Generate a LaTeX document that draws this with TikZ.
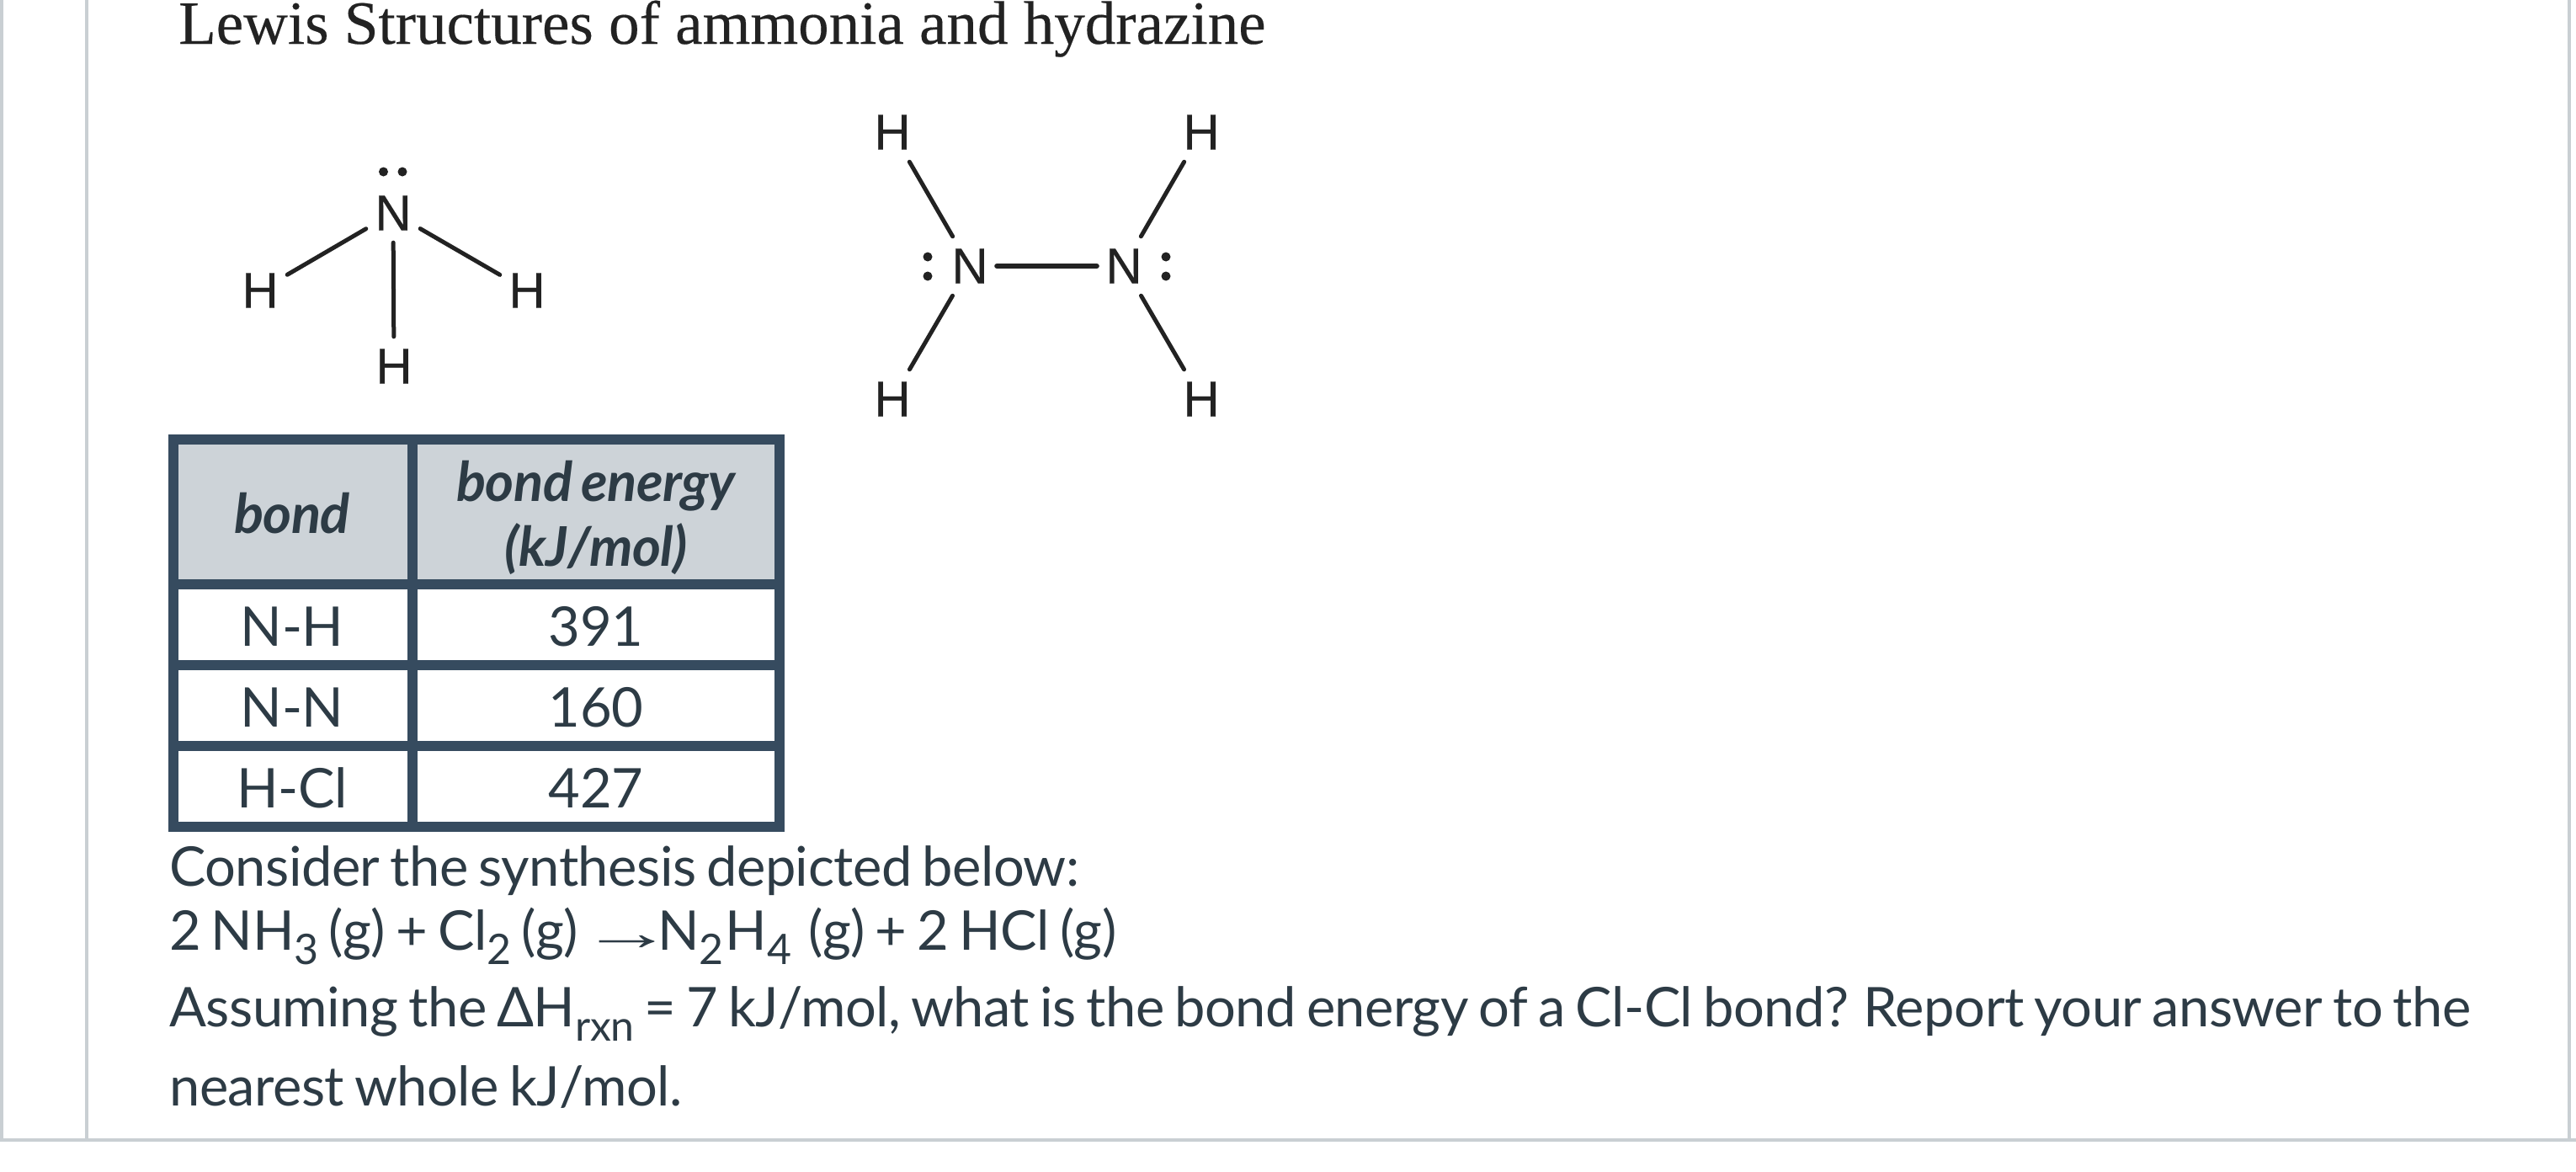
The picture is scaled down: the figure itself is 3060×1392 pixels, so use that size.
\documentclass[tikz,border=0pt]{standalone}
\usepackage{fontspec}
\usepackage{graphicx}
\setmainfont{Lato}[LetterSpace=-0.8,WordSpace=0.75]
\newfontfamily\timesf{Liberation Serif}[FakeBold=0.25]
\newfontfamily\helvf{Liberation Sans}[FakeBold=0.25]
\newfontfamily\arrowf{Liberation Sans}
\definecolor{canvastext}{HTML}{2D3B45}
\definecolor{tableline}{HTML}{364B5F}
\definecolor{headfill}{HTML}{CDD3D8}
\definecolor{frameline}{HTML}{C9CFD3}
\definecolor{chem}{HTML}{222222}
\newcommand\sbs[1]{\raisebox{-17pt}{\fontsize{50}{50}\selectfont #1}}
\tikzset{
  x=1pt,y=-1pt,
  bodytext/.style={anchor=base west,inner sep=0pt,text=canvastext,font=\fontsize{65}{78}\selectfont},
  celltext/.style={anchor=base,inner sep=0pt,text=canvastext,font=\fontsize{65}{78}\selectfont},
  headtext/.style={anchor=base,inner sep=0pt,text=canvastext,font=\fontsize{65}{78}\selectfont\bfseries\itshape},
  atom/.style={rectangle,inner sep=0pt,minimum width=64pt,minimum height=70pt,text=chem,font=\helvf\fontsize{60}{60}\selectfont},
  bondline/.style={draw=chem,line width=5pt,line cap=round},
  lonedot/.style={fill=chem,draw=none},
  frameedge/.style={fill=frameline,draw=none},
  cellback/.style={draw=none,fill=white},
  headback/.style={draw=none,fill=headfill},
}
\begin{document}
\begin{tikzpicture}
\useasboundingbox (0,0) rectangle (3060,1392);
\fill[white] (0,0) rectangle (3060,1392);
% page frame
\fill[frameedge] (0,0) rectangle (4,1356);
\fill[frameedge] (101,0) rectangle (105,1356);
\fill[frameedge] (3050,0) rectangle (3054,1356);
\fill[frameedge] (0,1352) rectangle (3060,1356);
% title
\node[anchor=base west,inner sep=0pt,text=chem,font=\timesf\fontsize{73}{73}\selectfont] (title) at (212,52) {Lewis Structures of ammonia and hydrazine};
% ammonia
\node[atom] (an) at (467,253) {N};
\node[atom] (ah1) at (309,345) {H};
\node[atom] (ah2) at (626,345) {H};
\node[atom] (ah3) at (468,435) {H};
\draw[bondline] (an) -- (ah1);
\draw[bondline] (an) -- (ah2);
\draw[bondline] (an) -- (ah3);
\fill[lonedot] (455.5,204) circle (5.5);
\fill[lonedot] (478,204) circle (5.5);
% hydrazine
\node[atom] (n1) at (1152,316) {N};
\node[atom] (n2) at (1335,316) {N};
\node[atom] (h1) at (1060,157) {H};
\node[atom] (h2) at (1427,157) {H};
\node[atom] (h3) at (1060,474) {H};
\node[atom] (h4) at (1427,474) {H};
\draw[bondline] (n1) -- (h1);
\draw[bondline] (n2) -- (h2);
\draw[bondline] (n1) -- (h3);
\draw[bondline] (n2) -- (h4);
\draw[bondline,line width=6pt] (n1) -- (n2);
\fill[lonedot] (1102,305) circle (5.5);
\fill[lonedot] (1102,328) circle (5.5);
\fill[lonedot] (1385,305) circle (5.5);
\fill[lonedot] (1385,328) circle (5.5);
% table
\fill[tableline] (200,516) rectangle (932,988);
\fill[headback] (212,528) rectangle (484,688);
\fill[headback] (496,528) rectangle (920,688);
\fill[cellback] (212,700) rectangle (484,784);
\fill[cellback] (496,700) rectangle (920,784);
\fill[cellback] (212,796) rectangle (484,880);
\fill[cellback] (496,796) rectangle (920,880);
\fill[cellback] (212,892) rectangle (484,976);
\fill[cellback] (496,892) rectangle (920,976);
\node[headtext] (thb) at (347,633) {bond};
\node[headtext] (the) at (708,595) {bond energy};
\node[headtext] (thu) at (708,672) {(kJ/mol)};
\node[celltext] (c1) at (347,767) {N-H};
\node[celltext] (d1) at (708,767) {391};
\node[celltext] (c2) at (347,863) {N-N};
\node[celltext] (d2) at (708,863) {160};
\node[celltext] (c3) at (347,959) {H-Cl};
\node[celltext] (d3) at (708,959) {427};
% question
\node[bodytext] (q1) at (201,1052) {Consider the synthesis depicted below:};
\node[bodytext] (q2) at (201,1128) {2 NH\sbs{3} (g) + Cl\sbs{2} (g)\hspace{-9.5pt} {\arrowf\fontsize{60}{60}\selectfont\scalebox{1.85}[1]{→}}\hspace{-31.5pt} N\sbs{2}\hspace{2pt}H\sbs{4}\hspace{8pt} (g) + 2 HCl (g)};
\node[bodytext] (q3) at (201,1219) {Assuming the ΔH\sbs{rxn} = 7 kJ/mol, what is the bond energy of a Cl-Cl bond? Report your answer to the};
\node[bodytext] (q4) at (201,1313) {nearest whole kJ/mol.};
\end{tikzpicture}
\end{document}
